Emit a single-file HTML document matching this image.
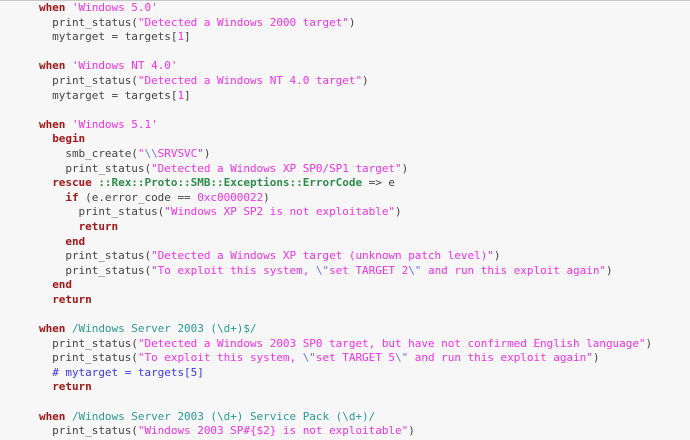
<!DOCTYPE html>
<html><head><meta charset="utf-8"><style>
html,body{margin:0;padding:0;}
body{width:690px;height:440px;background:#f7f7f7;overflow:hidden;position:relative;border-top:1px solid #c8c8c8;box-sizing:border-box;}
pre{margin:0;position:absolute;left:39px;top:0px;font-family:"DejaVu Sans Mono","Liberation Mono",monospace;font-size:11px;line-height:14.59px;color:#444;letter-spacing:-0.03px;}
.k{color:#a01818;font-weight:bold}
.s{color:#f032e6}
.r{color:#2a9a94}
.c{color:#2e8b4a;font-weight:bold}
.e{color:#7070d8}
.m{color:#3a3adc}
</style></head><body>
<pre><span class="k">when</span> <span class="s">'Windows 5.0'</span>
  print_status(<span class="s">"Detected a Windows 2000 target"</span>)
  mytarget = targets[<span class="s">1</span>]

<span class="k">when</span> <span class="s">'Windows NT 4.0'</span>
  print_status(<span class="s">"Detected a Windows NT 4.0 target"</span>)
  mytarget = targets[<span class="s">1</span>]

<span class="k">when</span> <span class="s">'Windows 5.1'</span>
  <span class="k">begin</span>
    smb_create(<span class="s">"</span><span class="e">\\</span><span class="s">SRVSVC"</span>)
    print_status(<span class="s">"Detected a Windows XP SP0/SP1 target"</span>)
  <span class="k">rescue</span> <span class="c">::Rex::Proto::SMB::Exceptions::ErrorCode</span> =&gt; e
    <span class="k">if</span> (e.error_code == <span class="s">0xc0000022</span>)
      print_status(<span class="s">"Windows XP SP2 is not exploitable"</span>)
      <span class="k">return</span>
    <span class="k">end</span>
    print_status(<span class="s">"Detected a Windows XP target (unknown patch level)"</span>)
    print_status(<span class="s">"To exploit this system, </span><span class="e">\"</span><span class="s">set TARGET 2</span><span class="e">\"</span><span class="s"> and run this exploit again"</span>)
  <span class="k">end</span>
  <span class="k">return</span>

<span class="k">when</span> <span class="r">/Windows Server 2003 (\d+)$/</span>
  print_status(<span class="s">"Detected a Windows 2003 SP0 target, but have not confirmed English language"</span>)
  print_status(<span class="s">"To exploit this system, </span><span class="e">\"</span><span class="s">set TARGET 5</span><span class="e">\"</span><span class="s"> and run this exploit again"</span>)
  <span class="m"># mytarget = targets[5]</span>
  <span class="k">return</span>

<span class="k">when</span> <span class="r">/Windows Server 2003 (\d+) Service Pack (\d+)/</span>
  print_status(<span class="s">"Windows 2003 SP#{$2} is not exploitable"</span>)
</pre>
</body></html>
